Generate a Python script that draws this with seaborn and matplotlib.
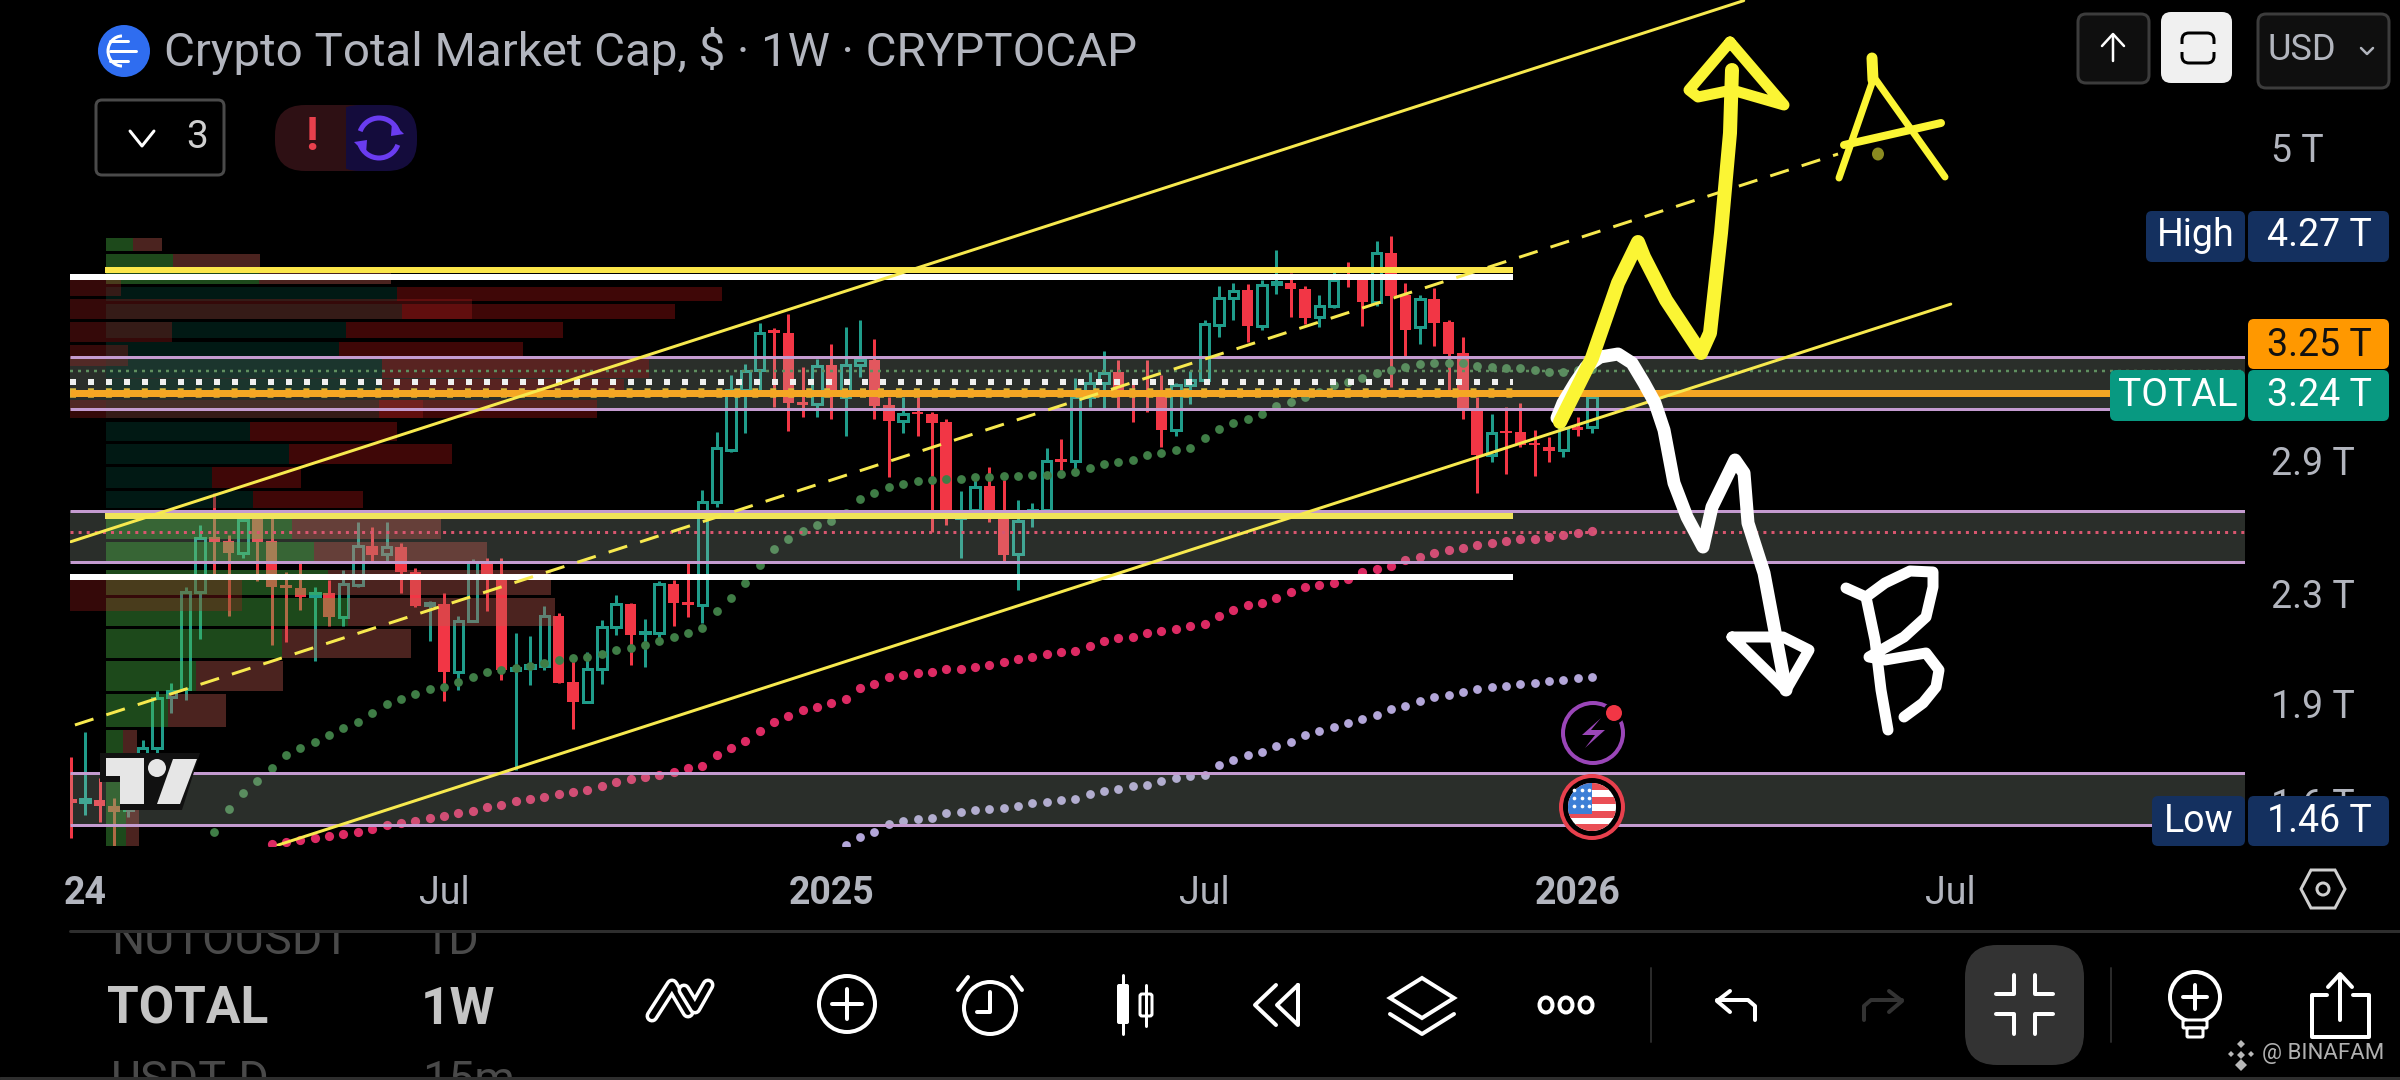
import numpy as np
import pandas as pd
import matplotlib
matplotlib.use('Agg')
import matplotlib.pyplot as plt
import matplotlib.dates as mdates
from matplotlib.patches import FancyBboxPatch, Circle, Polygon, Rectangle, Arc, Ellipse
from matplotlib.ticker import NullLocator, NullFormatter
import seaborn as sns

# weekly candles, prices in trillions of USD
opens = [1.608, 1.602, 1.606, 1.590, 1.579, 1.712, 1.759, 1.920, 1.947, 2.308,
         2.536, 2.521, 2.469, 2.622, 2.521, 2.334, 2.321, 2.291, 2.301, 2.207,
         2.335, 2.498, 2.463, 2.492, 2.389, 2.253, 2.257, 2.005, 2.191, 2.424,
         2.356, 2.012, 2.020, 2.028, 2.213, 1.972, 1.905, 2.016, 2.170, 2.258,
         2.147, 2.149, 2.339, 2.266, 2.255, 2.698, 2.952, 3.277, 3.393, 3.637,
         3.620, 3.210, 3.197, 3.423, 3.239, 3.423, 3.454, 3.191, 3.106, 3.153,
         3.141, 3.098, 2.622, 2.662, 2.773, 2.629, 2.462, 2.644, 2.659, 2.905,
         2.898, 3.239, 3.316, 3.381, 3.268, 3.277, 3.258, 3.059, 3.306, 3.336,
         3.670, 3.844, 3.900, 3.660, 3.940, 3.949, 3.903, 3.722, 3.792, 3.979,
         3.967, 3.821, 4.156, 3.865, 3.655, 3.839, 3.688, 3.493, 3.165, 2.927,
         3.051, 3.046, 2.990, 2.969, 2.952, 3.075, 3.075]
highs = [1.732, 1.809, 1.668, 1.611, 1.635, 1.783, 1.940, 1.968, 2.328, 2.592,
         2.739, 2.546, 2.637, 2.645, 2.648, 2.389, 2.424, 2.325, 2.356, 2.396,
         2.607, 2.584, 2.607, 2.510, 2.403, 2.271, 2.301, 2.213, 2.441, 2.445,
         2.445, 2.149, 2.137, 2.250, 2.223, 2.061, 2.079, 2.197, 2.295, 2.264,
         2.200, 2.349, 2.356, 2.424, 2.754, 3.047, 3.365, 3.429, 3.680, 3.647,
         3.738, 3.413, 3.458, 3.547, 3.655, 3.701, 3.580, 3.239, 3.239, 3.239,
         3.156, 3.114, 2.747, 2.831, 2.868, 2.803, 2.706, 2.693, 2.960, 3.009,
         3.344, 3.383, 3.507, 3.454, 3.316, 3.454, 3.365, 3.316, 3.389, 3.701,
         3.925, 3.945, 3.941, 3.967, 4.180, 4.013, 3.926, 3.865, 4.061, 4.091,
         3.990, 4.246, 4.283, 3.945, 3.865, 3.911, 3.701, 3.595, 3.239, 3.143,
         3.180, 3.206, 3.056, 3.021, 3.093, 3.128, 3.249]
lows = [1.503, 1.565, 1.547, 1.483, 1.560, 1.692, 1.742, 1.867, 1.911, 2.124,
        2.375, 2.213, 2.445, 2.349, 2.103, 2.115, 2.235, 2.046, 2.175, 2.172,
        2.328, 2.431, 2.431, 2.301, 2.248, 2.118, 1.909, 1.945, 2.188, 2.232,
        1.979, 1.692, 1.962, 2.012, 1.968, 1.816, 1.900, 1.965, 2.140, 2.032,
        2.023, 2.109, 2.175, 2.210, 2.185, 2.675, 2.944, 3.039, 3.258, 3.183,
        3.053, 3.128, 3.128, 3.114, 3.025, 3.354, 3.114, 2.819, 3.042, 3.025,
        2.561, 2.591, 2.448, 2.644, 2.607, 2.431, 2.315, 2.581, 2.647, 2.851,
        2.851, 3.180, 3.174, 3.174, 3.101, 3.156, 2.969, 3.025, 3.198, 3.326,
        3.591, 3.701, 3.564, 3.635, 3.871, 3.722, 3.676, 3.655, 3.777, 3.922,
        3.664, 3.792, 3.296, 3.473, 3.550, 3.538, 3.258, 3.114, 2.738, 2.889,
        2.831, 2.969, 2.821, 2.893, 2.918, 3.025, 3.039]
closes = [1.599, 1.608, 1.590, 1.574, 1.606, 1.759, 1.917, 1.943, 2.308, 2.535,
          2.515, 2.469, 2.614, 2.517, 2.328, 2.323, 2.288, 2.301, 2.207, 2.338,
          2.498, 2.459, 2.492, 2.389, 2.250, 2.261, 2.005, 2.191, 2.431, 2.375,
          2.012, 2.020, 2.032, 2.213, 1.970, 1.905, 2.016, 2.170, 2.257, 2.140,
          2.153, 2.339, 2.264, 2.255, 2.698, 2.960, 3.277, 3.389, 3.620, 3.616,
          3.202, 3.195, 3.419, 3.239, 3.423, 3.454, 3.187, 3.106, 3.143, 3.143,
          3.096, 2.622, 2.644, 2.770, 2.644, 2.459, 2.611, 2.659, 2.898, 2.893,
          3.239, 3.316, 3.377, 3.277, 3.249, 3.258, 3.056, 3.306, 3.332, 3.676,
          3.844, 3.895, 3.660, 3.931, 3.953, 3.903, 3.715, 3.792, 3.967, 3.967,
          3.821, 4.156, 3.861, 3.637, 3.836, 3.684, 3.489, 3.165, 2.927, 3.042,
          3.039, 2.978, 2.980, 2.949, 3.065, 3.056, 3.236]

# moving averages (green starts at bar 10, pink at bar 14, lavender at bar 54)
ma_green = [1.520, 1.581, 1.625, 1.661, 1.697, 1.736, 1.757, 1.777, 1.797, 1.819,
            1.841, 1.867, 1.897, 1.913, 1.930, 1.947, 1.956, 1.971, 1.988, 2.006,
            2.012, 2.020, 2.026, 2.038, 2.049, 2.055, 2.061, 2.071, 2.085, 2.094,
            2.103, 2.118, 2.132, 2.147, 2.166, 2.231, 2.284, 2.342, 2.417, 2.484,
            2.527, 2.566, 2.592, 2.609, 2.644, 2.709, 2.738, 2.767, 2.783, 2.796,
            2.802, 2.806, 2.806, 2.815, 2.818, 2.823, 2.821, 2.825, 2.825, 2.833,
            2.840, 2.859, 2.879, 2.892, 2.903, 2.925, 2.935, 2.950, 2.960, 3.012,
            3.060, 3.092, 3.117, 3.143, 3.189, 3.211, 3.236, 3.268, 3.306, 3.320,
            3.344, 3.373, 3.393, 3.413, 3.427, 3.437, 3.437, 3.433, 3.419, 3.413,
            3.407, 3.403, 3.395, 3.383, 3.381, 3.393, 3.397]
ma_pink = [1.488, 1.494, 1.498, 1.503, 1.509, 1.513, 1.520, 1.527, 1.538, 1.542,
           1.549, 1.556, 1.562, 1.570, 1.577, 1.586, 1.591, 1.603, 1.608, 1.614,
           1.622, 1.628, 1.635, 1.646, 1.657, 1.665, 1.671, 1.678, 1.685, 1.697,
           1.705, 1.736, 1.757, 1.780, 1.812, 1.841, 1.858, 1.878, 1.889, 1.900,
           1.913, 1.950, 1.964, 1.988, 1.995, 2.002, 2.006, 2.016, 2.016, 2.023,
           2.033, 2.041, 2.052, 2.059, 2.069, 2.077, 2.083, 2.101, 2.117, 2.128,
           2.134, 2.147, 2.154, 2.163, 2.173, 2.181, 2.212, 2.236, 2.253, 2.262,
           2.284, 2.306, 2.325, 2.335, 2.342, 2.358, 2.389, 2.400, 2.413, 2.438,
           2.449, 2.466, 2.481, 2.491, 2.503, 2.510, 2.520, 2.527, 2.531, 2.536,
           2.545, 2.554, 2.563]
ma_lav = [1.484, 1.505, 1.519, 1.540, 1.548, 1.553, 1.558, 1.570, 1.572, 1.578,
          1.581, 1.583, 1.590, 1.597, 1.600, 1.605, 1.610, 1.622, 1.631, 1.638,
          1.645, 1.650, 1.659, 1.668, 1.674, 1.679, 1.706, 1.721, 1.736, 1.745,
          1.763, 1.778, 1.797, 1.810, 1.823, 1.836, 1.850, 1.863, 1.880, 1.893,
          1.907, 1.920, 1.928, 1.939, 1.947, 1.954, 1.959, 1.964, 1.970, 1.974,
          1.979, 1.986, 1.990]

# volume profile rows: price edges and up / down volume
vp_top = [4.266, 4.149, 4.037, 3.922, 3.806, 3.690, 3.564, 3.458, 3.338, 3.221, 3.099, 2.983,
          2.864, 2.750, 2.644, 2.517, 2.396, 2.284, 2.162, 2.046, 1.931, 1.814, 1.702]
vp_bot = [4.173, 4.060, 3.939, 3.828, 3.709, 3.585, 3.477, 3.344, 3.277, 3.119, 3.000, 2.883,
          2.765, 2.668, 2.527, 2.424, 2.295, 2.175, 2.055, 1.942, 1.825, 1.712, 1.481]
vp_up = [27, 67, 153, 291, 296, 240, 233, 276, 276, 273, 144, 183, 106, 147, 186, 208, 222, 242, 176, 90, 62, 17, 20]
vp_down = [29, 87, 132, 325, 273, 217, 184, 267, 242, 218, 147, 163, 89, 110, 149, 173, 223, 207, 129, 87, 58, 14, 13]
vp_value_area = [1, 1, 1, 0, 0, 0, 0, 0, 0, 0, 0, 0, 0, 0, 1, 1, 1, 1, 1, 1, 1, 1, 1]
# second profile drawn from the left edge
vp2_top = [3.987, 3.839, 3.690, 3.543, 3.221, 2.368]
vp2_bot = [3.859, 3.710, 3.564, 3.417, 3.119, 2.232]
vp2_vol = [51, 402, 102, 58, 353, 172]

# price levels
zone_top = [3.469, 2.657, 1.682]
zone_bot = [3.169, 2.429, 1.537]
yellow_levels = [4.037, 2.632]
white_levels = [3.987, 2.368]
poc_level = 3.324
green_dot_level = 3.389
pink_dot_level = 2.561
last_price = 3.26

# channel, (date, price) at both ends
upper_dates = ['2023-12-25', '2026-03-20']
upper_vals = [2.517, 6.45]
mid_dates = ['2023-12-27', '2026-05-05']
mid_vals = [1.830, 4.94]
lower_dates = ['2024-04-04', '2026-06-29']
lower_vals = [1.485, 3.805]

xtick_dates = ['2024-01-01', '2024-06-24', '2024-12-30', '2025-06-30', '2025-12-29', '2026-06-29']
xtick_labels = ['24', 'Jul', '2025', 'Jul', '2026', 'Jul']
ytick_vals = [5, 2.9, 2.3, 1.9, 1.6]
ytick_labels = ['5 T', '2.9 T', '2.3 T', '1.9 T', '1.6 T']

GREY = '#b2b5be'
TEAL = '#1f9c8a'
RED = '#f23645'
YELLOW = '#f7e94e'
LILAC = '#c49bd0'
HAND_YELLOW = '#fbf534'
PX = 0.72  # points per pixel at dpi 100

sns.set_theme(style='dark', rc={'axes.facecolor': 'black', 'figure.facecolor': 'black',
                                'patch.force_edgecolor': False})
plt.rcParams['font.family'] = ['Roboto', 'DejaVu Sans']

fig = plt.figure(figsize=(24, 10.8), dpi=100)
ax = fig.add_axes([70 / 2400, 1 - 846 / 1080, 2175 / 2400, 846 / 1080])

dates = mdates.date2num(pd.date_range('2023-12-25', periods=len(opens), freq='7D'))
opens, highs, lows, closes = map(np.array, (opens, highs, lows, closes))
up = closes >= opens
left, right = dates[-1] - 742.4, dates[-1] + 318.5
level_end = dates[-1] - 38.5
vp_start = dates[-1] - 725

# candles
ax.vlines(dates[up], lows[up], highs[up], color=TEAL, lw=3 * PX, zorder=2)
ax.vlines(dates[~up], lows[~up], highs[~up], color=RED, lw=3 * PX, zorder=2)
ax.bar(dates[up], closes[up] - opens[up], bottom=opens[up], width=4.6, facecolor='black',
       edgecolor=TEAL, linewidth=3 * PX, zorder=2.1)
ax.bar(dates[~up], opens[~up] - closes[~up], bottom=closes[~up], width=5.6, color=RED, linewidth=0, zorder=2.1)

# moving averages
sns.scatterplot(x=dates[10:], y=ma_green, ax=ax, color='#3f7d46', s=40, linewidth=0, zorder=3)
sns.scatterplot(x=dates[14:], y=ma_pink, ax=ax, color='#dc2a63', s=44, linewidth=0, zorder=3)
sns.scatterplot(x=dates[54:], y=ma_lav, ax=ax, color='#b3a6d9', s=40, linewidth=0, zorder=3)

# zones
for top, bot in zip(zone_top, zone_bot):
    ax.fill_between([left, right], bot, top, color='#b0c4b0', alpha=0.24, linewidth=0, zorder=4)
    ax.hlines([top, bot], left, right, color=LILAC, lw=3 * PX, zorder=6)

# volume profile
for i in range(len(vp_top)):
    h = vp_top[i] - vp_bot[i]
    w_up = vp_up[i] / 2.05
    w_down = vp_down[i] / 2.05
    c_up = '#4bb946' if vp_value_area[i] else '#054134'
    c_down = '#be5a50' if vp_value_area[i] else '#9e1414'
    ax.barh(vp_bot[i], w_up, height=h, left=vp_start, align='edge', color=c_up, alpha=0.4, linewidth=0, zorder=5)
    ax.barh(vp_bot[i], w_down, height=h, left=vp_start + w_up, align='edge', color=c_down, alpha=0.4, linewidth=0, zorder=5)
for top, bot, vol in zip(vp2_top, vp2_bot, vp2_vol):
    ax.barh(bot, vol / 2.05, height=top - bot, left=left, align='edge', color='#b02020', alpha=0.3, linewidth=0, zorder=5)

# horizontal levels
ax.hlines(green_dot_level, left, right, color='#5f8f5f', lw=2.5 * PX, linestyles=(0, (1.2, 2)), zorder=6)
ax.hlines(pink_dot_level, left, right, color='#d8566f', lw=3 * PX, linestyles=(0, (1, 1.7)), zorder=6)
ax.hlines(last_price, left, level_end, color='#d9b83a', lw=9.5 * PX, linestyles=(0, (0.63, 1.26)), zorder=6)
ax.hlines(poc_level, left, level_end, color='#f0f0f0', lw=6 * PX, linestyles=(0, (1, 2)), zorder=6.2)
ax.hlines(last_price, left, right, color='#f5a623', lw=7 * PX, zorder=6.3)
ax.hlines(yellow_levels[0], left + 17, level_end, color='#fbe64a', lw=6 * PX, zorder=6.4)
ax.hlines(yellow_levels[1], left + 17, level_end, color='#f0e45a', lw=6 * PX, zorder=6.4)
ax.hlines(white_levels, left, level_end, color='white', lw=6 * PX, zorder=6.4)

# channel
sns.lineplot(x=mdates.datestr2num(upper_dates), y=upper_vals, ax=ax, color=YELLOW, lw=3 * PX, zorder=7)
sns.lineplot(x=mdates.datestr2num(lower_dates), y=lower_vals, ax=ax, color=YELLOW, lw=3 * PX, zorder=7)
ax.plot(mdates.datestr2num(mid_dates), mid_vals, color=YELLOW, lw=3 * PX, linestyle=(0, (6.5, 4.5)), zorder=7)

ax.set_yscale('log')
ax.set_xlim(left, right)
ax.set_ylim(1.4827, 6.457)
ax.set_xlabel('')
ax.set_ylabel('')
ax.grid(False)
sns.despine(ax=ax, left=True, bottom=True)

ax.set_xticks(mdates.datestr2num(xtick_dates))
ax.set_xticklabels(xtick_labels)
ax.tick_params(axis='x', length=0, pad=21, labelsize=27, labelcolor=GREY)
for lab in ax.get_xticklabels():
    if lab.get_text() in ('24', '2025', '2026'):
        lab.set_fontweight('bold')
ax.yaxis.tick_right()
ax.yaxis.set_minor_locator(NullLocator())
ax.yaxis.set_minor_formatter(NullFormatter())
ax.set_yticks(ytick_vals)
ax.set_yticklabels(ytick_labels)
ax.tick_params(axis='y', length=0, pad=19, labelsize=27, labelcolor=GREY)

# everything else on the screenshot is placed in screen pixels
ui = fig.add_axes([0, 0, 1, 1], facecolor='none', zorder=10)
ui.set_xlim(0, 2400)
ui.set_ylim(1080, 0)
ui.axis('off')


def box(x0, y0, x1, y1, fc, ec='none', r=6, lw=3):
    ui.add_patch(FancyBboxPatch((x0, y0), x1 - x0, y1 - y0, boxstyle=f'round,pad=0,rounding_size={r}',
                                fc=fc, ec=ec, lw=lw * PX))


def stroke(x, y, color='white', lw=4):
    ui.plot(x, y, color=color, lw=lw * PX, solid_capstyle='round', solid_joinstyle='round')


def label(x, y, s, size=27, color='white', ha='center', weight='normal'):
    return ui.text(x, y, s, fontsize=size, color=color, ha=ha, va='center', fontweight=weight)


def clipped(x, y, s, region):
    t = label(x, y, s, 33.5, '#4a4a4a', 'left')
    t.set_clip_path(region)
    t.set_clip_on(True)


# header
ui.add_patch(Circle((124, 51), 26, fc='#2f6df0', ec='none'))
for dy, ln in ((-10, 18), (0, 26), (10, 18)):
    stroke([110, 110 + ln], [51 + dy, 51 + dy], 'white', 3)
ui.add_patch(Arc((122, 51), 28, 30, theta1=90, theta2=270, color='white', lw=3 * PX))
label(164, 51, 'Crypto Total Market Cap, $ · 1W · CRYPTOCAP', 34.2, GREY, 'left')
box(96, 100, 224, 175, 'black', '#4a4a4a', 6)
stroke([130, 142, 154], [131, 146, 131], 'white', 3)
label(197, 137, '3', 28, '#d0d0d0')
box(275, 105, 400, 171, '#2e1014', r=30)
box(330, 105, 417, 171, '#140c3c', r=30)
ui.add_patch(Rectangle((320, 105), 26, 66, fc='#2e1014', ec='none'))
label(312, 137, '!', 34, '#e8404d', weight='bold')
ui.add_patch(Arc((379, 138), 40, 40, theta1=200, theta2=340, color='#6a3cf0', lw=5 * PX))
ui.add_patch(Arc((379, 138), 40, 40, theta1=20, theta2=160, color='#6a3cf0', lw=5 * PX))
ui.add_patch(Polygon([(392, 122), (404, 134), (391, 136)], fc='#6a3cf0', ec='none'))
ui.add_patch(Polygon([(366, 154), (354, 142), (367, 140)], fc='#6a3cf0', ec='none'))

# top right buttons
box(2078, 14, 2149, 83, '#0f0f0f', '#3c3c3c', 8)
stroke([2113, 2113], [35, 61], 'white', 2.5)
stroke([2102, 2113, 2124], [46, 34, 46], 'white', 2.5)
box(2161, 12, 2232, 83, '#f0f0f0', r=10)
box(2182, 33, 2214, 63, 'none', 'black', 7, 3)
ui.add_patch(Rectangle((2176, 44), 44, 8, fc='#f0f0f0', ec='none'))
box(2258, 14, 2389, 88, '#0f0f0f', '#3c3c3c', 8)
label(2302, 50, 'USD', 26, GREY)
stroke([2361, 2367, 2373], [48, 54, 48], GREY, 2.5)

# price labels
box(2146, 211, 2245, 262, '#14305f')
box(2248, 211, 2389, 262, '#14305f')
label(2196, 235, 'High')
label(2319, 236, '4.27 T')
box(2248, 319, 2389, 369, '#ff9800')
label(2319, 345, '3.25 T', color='#111111')
box(2110, 370, 2245, 421, '#089981')
box(2248, 370, 2389, 421, '#089981')
label(2178, 396, 'TOTAL', 28)
label(2319, 396, '3.24 T')
box(2152, 796, 2245, 846, '#14305f')
box(2248, 796, 2389, 846, '#14305f')
label(2199, 822, 'Low')
label(2319, 822, '1.46 T')

# hex settings icon
ui.add_patch(Polygon([(2301, 889), (2311, 870), (2335, 870), (2345, 889), (2335, 908), (2311, 908)],
                     fc='none', ec='#cfcfcf', lw=3 * PX))
ui.add_patch(Circle((2323, 889), 6, fc='none', ec='#cfcfcf', lw=3 * PX))

# tradingview logo
ui.add_patch(Polygon([(100, 753), (200, 753), (182, 810), (120, 810), (120, 782), (100, 782)], fc='#111111', ec='none'))
ui.add_patch(Polygon([(106, 758), (144, 758), (144, 804), (120, 804), (120, 776), (106, 776)], fc='#e6e6e6', ec='none'))
ui.add_patch(Ellipse((157, 768), 18, 18, fc='#e6e6e6', ec='none'))
ui.add_patch(Polygon([(173, 759), (197, 759), (180, 804), (157, 804)], fc='#e6e6e6', ec='none'))

# flash and flag markers
ui.add_patch(Circle((1593, 733), 30, fc='black', ec='#9a46b8', lw=4 * PX))
ui.add_patch(Polygon([(1601, 718), (1582, 735), (1595, 735), (1585, 748), (1605, 730), (1591, 730)], fc='#9a46b8', ec='none'))
ui.add_patch(Circle((1614, 713), 11, fc='black', ec='none'))
ui.add_patch(Circle((1614, 713), 8, fc='#f23645', ec='none'))
ui.add_patch(Circle((1592, 807), 31, fc='black', ec='#e8404d', lw=4 * PX))
flag = Circle((1592, 807), 24, transform=ui.transData)
ui.add_patch(Rectangle((1565, 780), 60, 60, fc='white', ec='none', clip_path=flag))
for sy, sh in ((783, 7), (797, 7), (811, 7), (824, 8)):
    ui.add_patch(Rectangle((1565, sy), 60, sh, fc='#ea4e55', ec='none', clip_path=flag))
ui.add_patch(Rectangle((1565, 780), 27, 34, fc='#3d7fd6', ec='none', clip_path=flag))
for sx in (1574, 1582, 1589):
    ui.scatter([sx] * 3, [790, 798, 806], s=7, color='white', linewidths=0)

# hand drawn strokes
white_x = [1557, 1563, 1575, 1586, 1600, 1618, 1632, 1644, 1655, 1664, 1674, 1687, 1703, 1712, 1735, 1744, 1748, 1764, 1776, 1786]
white_y = [418, 403, 383, 367, 357, 354, 363, 383, 403, 430, 483, 517, 547, 507, 460, 473, 523, 573, 637, 690]
stroke(white_x, white_y, 'white', 13)
stroke([1732, 1786, 1809, 1783, 1732], [637, 690, 650, 637, 637], 'white', 11)
stroke([1846, 1866, 1885, 1910, 1933, 1933, 1926, 1904, 1869, 1885, 1926, 1939, 1936, 1923, 1904],
       [588, 597, 583, 571, 572, 587, 617, 637, 657, 660, 653, 670, 687, 703, 717], 'white', 11)
stroke([1866, 1875, 1881, 1888], [597, 640, 690, 730], 'white', 11)
yel_x = [1560, 1592, 1618, 1638, 1644, 1666, 1701, 1710, 1721, 1730, 1732]
yel_y = [422, 358, 283, 242, 257, 300, 353, 333, 233, 133, 70]
stroke(yel_x, yel_y, HAND_YELLOW, 14)
stroke([1730, 1689, 1698, 1732, 1784, 1730], [42, 90, 97, 90, 105, 42], HAND_YELLOW, 11)
stroke([1839, 1873], [178, 80], HAND_YELLOW, 7)
stroke([1876, 1945], [80, 177], HAND_YELLOW, 7)
stroke([1872, 1873], [58, 80], HAND_YELLOW, 11)
stroke([1844, 1941], [145, 123], HAND_YELLOW, 8)
ui.add_patch(Ellipse((1878, 154), 12, 13, fc='#8a8a20', ec='none'))

# bottom panel
ui.plot([70, 2400], [931, 931], color='#2e2e2e', lw=3 * PX)
ui.plot([0, 2400], [1078, 1078], color='#2e2e2e', lw=3 * PX)
top_clip = Rectangle((0, 933), 2400, 30, transform=ui.transData)
low_clip = Rectangle((0, 1060), 2400, 17, transform=ui.transData)
clipped(111, 941, 'NUTOUSDT', top_clip)
clipped(422, 941, '1D', top_clip)
clipped(111, 1081, 'USDT.D', low_clip)
clipped(422, 1081, '15m', low_clip)
label(107, 1010, 'TOTAL', 37, '#c4c4c4', 'left', 'bold')
label(421, 1010, '1W', 37, '#c4c4c4', 'left', 'bold')

# toolbar icons
stroke([652, 672, 688], [1016, 985, 1012], 'white', 13)
stroke([652, 672, 688], [1016, 985, 1012], 'black', 6)
stroke([684, 695, 708], [990, 1008, 985], 'white', 13)
stroke([684, 695, 708], [990, 1008, 985], 'black', 6)
ui.add_patch(Circle((847, 1004), 28, fc='none', ec='white', lw=4 * PX))
stroke([832, 862], [1004, 1004], 'white', 4)
stroke([847, 847], [989, 1019], 'white', 4)
ui.add_patch(Circle((990, 1008), 26, fc='none', ec='white', lw=4 * PX))
stroke([990, 990, 977], [992, 1012, 1012], 'white', 4)
stroke([958, 968], [990, 977], 'white', 4)
stroke([1012, 1022], [977, 990], 'white', 4)
stroke([1123, 1123], [975, 1034], 'white', 3)
box(1117, 984, 1129, 1024, 'white', r=2)
stroke([1146, 1146], [985, 1026], 'white', 3)
box(1140, 994, 1152, 1016, 'black', 'white', 2, 3)
stroke([1276, 1255, 1276], [985, 1005, 1025], 'white', 4)
stroke([1298, 1277, 1298, 1298], [985, 1005, 1025, 985], 'white', 4)
ui.add_patch(Polygon([(1422, 978), (1454, 998), (1422, 1018), (1390, 998)], fc='none', ec='white', lw=4 * PX))
stroke([1390, 1422, 1454], [1014, 1034, 1014], 'white', 4)
for x in (1546, 1566, 1586):
    ui.add_patch(Ellipse((x, 1005), 13, 15, fc='none', ec='white', lw=4 * PX))
ui.plot([1651, 1651], [968, 1042], color='#2a2a2a', lw=2 * PX)
stroke([1755, 1755, 1748, 1717], [1020, 1006, 1000, 1000], 'white', 4)
stroke([1730, 1717, 1730], [991, 1001, 1012], 'white', 4)
stroke([1864, 1864, 1871, 1902], [1020, 1006, 1000, 1000], '#333333', 4)
stroke([1889, 1902, 1889], [991, 1001, 1012], '#333333', 4)
box(1965, 945, 2084, 1065, '#333333', r=32)
stroke([1996, 2014, 2014], [994, 994, 975], 'white', 4)
stroke([2035, 2035, 2053], [975, 994, 994], 'white', 4)
stroke([1996, 2014, 2014], [1014, 1014, 1034], 'white', 4)
stroke([2035, 2035, 2053], [1034, 1014, 1014], 'white', 4)
ui.plot([2111, 2111], [968, 1042], color='#2a2a2a', lw=2 * PX)
ui.add_patch(Circle((2195, 997), 25, fc='none', ec='white', lw=4 * PX))
stroke([2183, 2207], [997, 997], 'white', 4)
stroke([2195, 2195], [985, 1009], 'white', 4)
box(2183, 1020, 2207, 1028, 'black', 'white', 1, 3)
box(2187, 1028, 2203, 1037, 'black', 'white', 1, 3)
stroke([2327, 2312, 2312, 2369, 2369, 2353], [995, 995, 1037, 1037, 995, 995], 'white', 4)
stroke([2340, 2340], [1020, 975], 'white', 4)
stroke([2328, 2340, 2352], [987, 974, 987], 'white', 4)
for dx, dy, r in ((0, -10, 4), (-10, 0, 3), (10, 0, 3), (0, 1, 4), (0, 11, 6)):
    ui.add_patch(Polygon([(2241 + dx, 1054 + dy - r), (2241 + dx + r, 1054 + dy), (2241 + dx, 1054 + dy + r),
                          (2241 + dx - r, 1054 + dy)], fc='#b8b8b8', ec='none'))
label(2262, 1054, '@ BINAFAM', 16, '#b0b0b0', 'left')

fig.savefig('out.png', dpi=100, facecolor='black')
